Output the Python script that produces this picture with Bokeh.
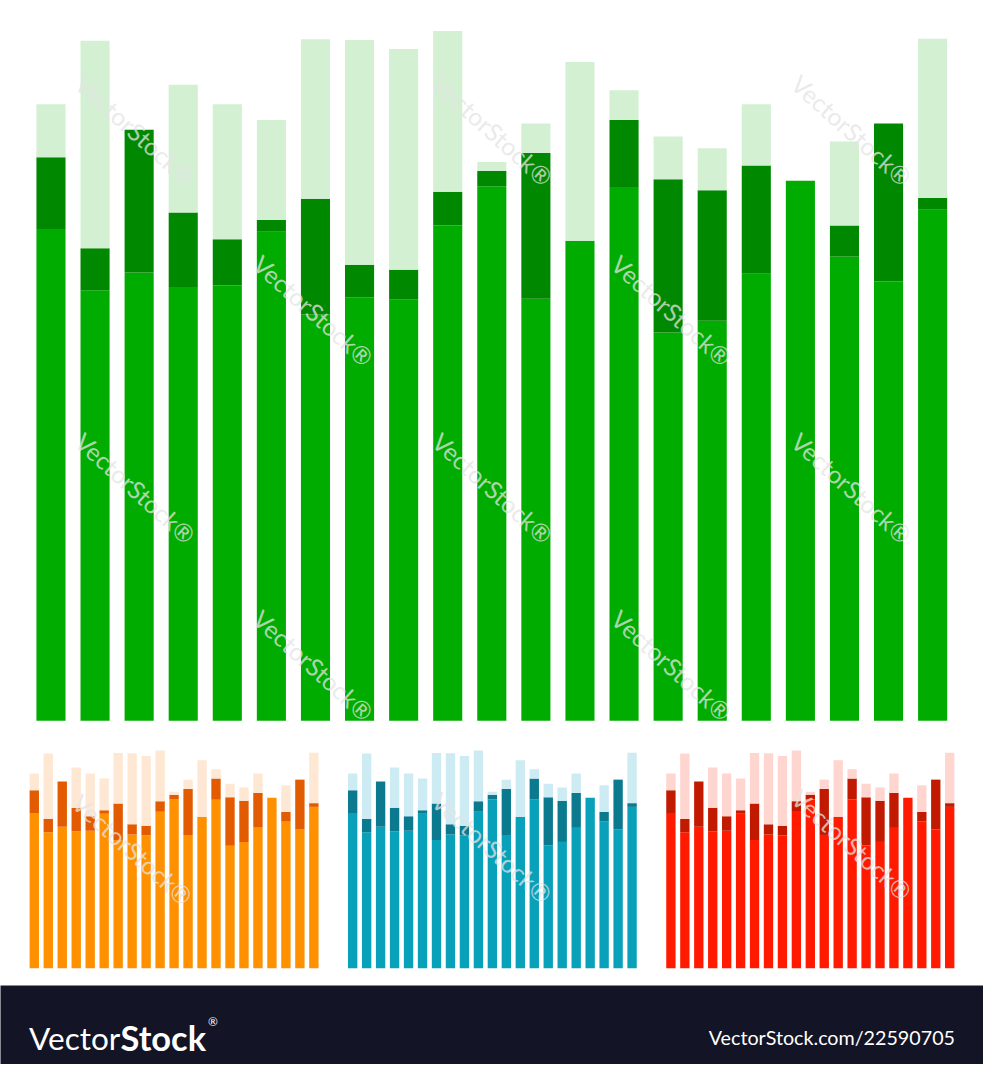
from bokeh.plotting import figure
from bokeh.models import Range1d, ColumnDataSource, Label
from bokeh.layouts import column, row
from bokeh.embed import file_html
from bokeh.resources import INLINE

# ---------------- data (0-100 scale) ----------------
bars = list(range(1, 22))
base = [71.3, 62.4, 65.0, 62.9, 63.1, 70.9, 58.9, 61.4, 61.1, 71.8, 77.5,
        61.2, 69.6, 77.4, 56.3, 58.0, 64.8, 78.3, 67.3, 63.7, 74.1]
mid = [81.7, 68.5, 85.7, 73.7, 69.8, 72.6, 75.7, 66.1, 65.4, 76.7, 79.7,
       82.3, 69.6, 87.1, 78.5, 76.9, 80.5, 78.3, 71.8, 86.6, 75.8]
peak = [89.4, 98.6, 85.7, 92.2, 89.4, 87.1, 98.8, 98.7, 97.4, 100.0, 81.0,
        86.6, 95.5, 91.4, 84.7, 83.0, 89.4, 78.3, 84.0, 86.6, 98.9]

palettes = {
    "green":  ("#00AC00", "#008800", "#D3F0D3"),
    "orange": ("#FF9000", "#E35B00", "#FFE8D3"),
    "blue":   ("#09A1BA", "#0B7A8F", "#CDEBF2"),
    "red":    ("#FF1A00", "#C21A00", "#FFD5CF"),
}

brand_a = "Vector"
brand_b = "Stock"
url_text = "VectorStock.com/22590705"
wm_text = "VectorStock\u00ae"

src = ColumnDataSource(dict(x=bars, base=base, mid=mid, peak=peak))

FONT = "Lato"
# page is 983 x 1064 for a 999 x 1080 design
SX = 983 / 999
SY = 1064 / 1080


def fs(px):
    return f"{px * SX:.1f}px"


def make_chart(width, height, left, top, ref_w, ref_h, first_center, step,
               bottom_px, px_per_unit, colors, bar_w):
    xs = 1 - (first_center - left) / step
    ys = -(top + ref_h - bottom_px) / px_per_unit
    xr = (xs, xs + ref_w / step)
    yr = (ys, ys + ref_h / px_per_unit)
    p = figure(width=width, height=height, output_backend="svg",
               toolbar_location=None, x_axis_location=None,
               y_axis_location=None, x_range=Range1d(*xr),
               y_range=Range1d(*yr), min_border=0, outline_line_color=None,
               background_fill_color="white", border_fill_color="white")
    p.grid.visible = False
    bright, dark, light = colors
    p.vbar(x="x", bottom=0, top="base", width=bar_w, source=src,
           fill_color=bright, line_color=None)
    p.vbar(x="x", bottom="base", top="mid", width=bar_w, source=src,
           fill_color=dark, line_color=None)
    p.vbar(x="x", bottom="mid", top="peak", width=bar_w, source=src,
           fill_color=light, line_color=None)

    def to_data(px, py):
        return (xr[0] + (px - left) / ref_w * (xr[1] - xr[0]),
                yr[1] - (py - top) / ref_h * (yr[1] - yr[0]))
    return p, to_data


def watermark(p, to_data, px, py):
    x, y = to_data(px, py)
    p.add_layout(Label(x=x, y=y, text=wm_text, angle=-42, angle_units="deg",
                       text_align="center", text_baseline="middle",
                       text_font=FONT, text_font_size=fs(25),
                       text_color="#e4e4e4", text_alpha=0.75))


# main chart (design coords: x 0..999, y 0..745)
main, main_td = make_chart(983, 734, 0, 0, 999, 745, 51.3, 44.8, 731, 7.0,
                           palettes["green"], 0.66)
for (wx, wy) in [(137, 132), (500, 132), (865, 132), (318, 315), (682, 315),
                 (137, 495), (500, 495), (865, 495), (318, 675), (682, 675)]:
    watermark(main, main_td, wx, wy)

# small charts (design y 745..1000)
orange, o_td = make_chart(331, 251, 0, 745, 336, 255, 34.3, 14.19, 982.5,
                          2.213, palettes["orange"], 0.67)
blue, b_td = make_chart(318, 251, 336, 745, 323, 255, 357.5, 14.19, 982.5,
                        2.213, palettes["blue"], 0.67)
red, r_td = make_chart(334, 251, 659, 745, 340, 255, 680.8, 14.19, 982.5,
                       2.213, palettes["red"], 0.67)
watermark(orange, o_td, 134, 862)
watermark(blue, b_td, 499, 860)
watermark(red, r_td, 865, 857)

# footer (design y 1000..1080)
footer = figure(width=983, height=79, output_backend="svg",
                toolbar_location=None, x_axis_location=None,
                y_axis_location=None, x_range=Range1d(0, 999),
                y_range=Range1d(0, 80), min_border=0,
                outline_line_color=None, background_fill_color="#131426",
                border_fill_color="#131426")
footer.grid.visible = False
footer.add_layout(Label(x=29, y=27, text=brand_a, text_align="left",
                        text_baseline="alphabetic", text_font=FONT,
                        text_font_size=fs(32), text_color="white"))
footer.add_layout(Label(x=122, y=27, text=brand_b, text_align="left",
                        text_baseline="alphabetic", text_font=FONT,
                        text_font_style="bold", text_font_size=fs(35),
                        text_color="white"))
footer.add_layout(Label(x=211, y=44, text="\u00ae", text_align="left",
                        text_baseline="alphabetic", text_font=FONT,
                        text_font_size=fs(12), text_color="white"))
footer.add_layout(Label(x=970, y=27, text=url_text, text_align="right",
                        text_baseline="alphabetic", text_font=FONT,
                        text_font_size=fs(20), text_color="white"))

layout = column(main, row(orange, blue, red, spacing=0), footer, spacing=0)

open("out.html", "w").write(file_html(layout, INLINE))
